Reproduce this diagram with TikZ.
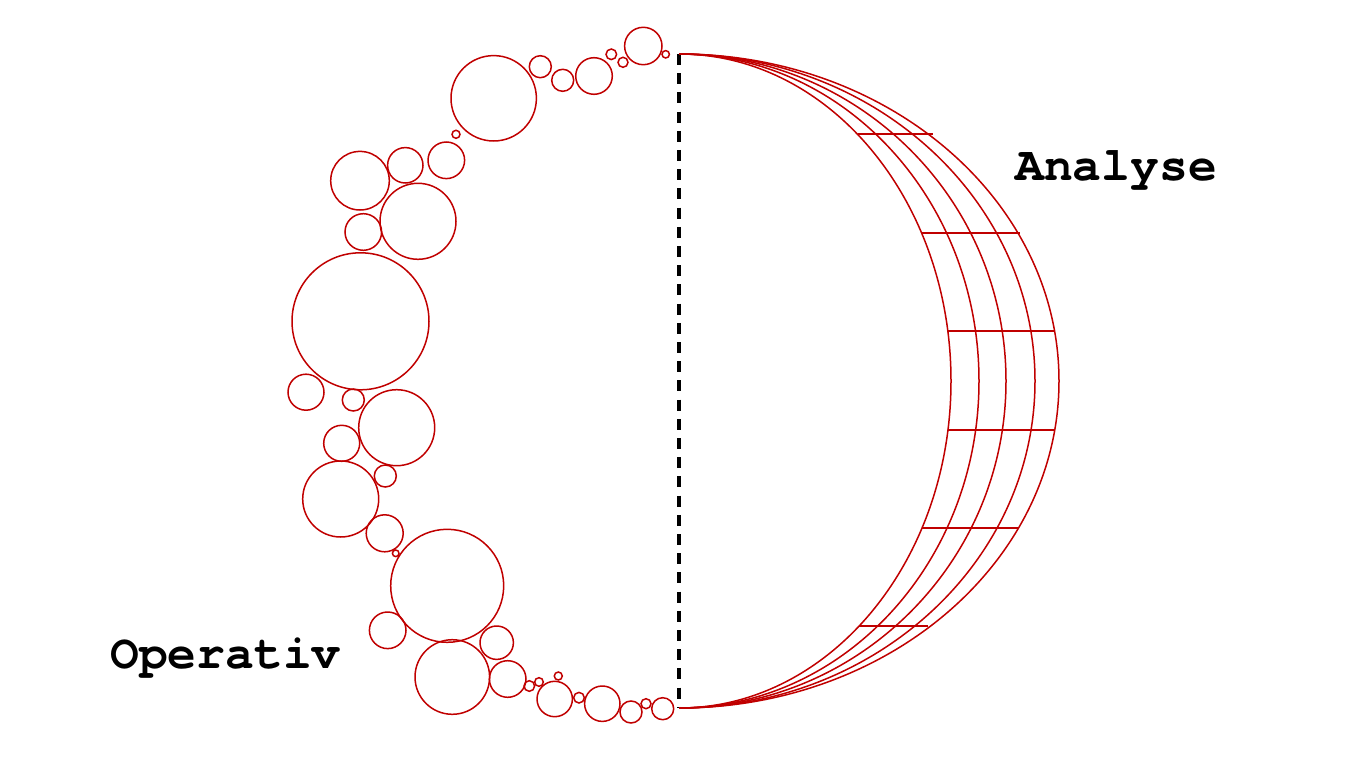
\documentclass[tikz,border=0pt]{standalone}
\usepackage{fontspec}
\newfontfamily\labelfont{texgyrecursor}[Extension=.otf,UprightFont=*-regular,BoldFont=*-bold]
\definecolor{dred}{RGB}{192,0,0}
\begin{document}
\begin{tikzpicture}[x=1pt,y=-1pt,
  bub/.style={draw=dred,line width=1.5pt},
  arcline/.style={draw=dred,line width=1.5pt},
  rung/.style={draw=dred,line width=1.5pt},
  axisline/.style={draw=black,line width=3.2pt,dash pattern=on 11pt off 8.2pt},
  lbl/.style={font=\labelfont\bfseries\fontsize{48}{50}\selectfont,anchor=base,inner sep=0pt}]
\useasboundingbox (0,0) rectangle (1358,765);
\coordinate (top) at (679,54);
\coordinate (bot) at (679,708);
% dashed axis
\draw[axisline] (top) -- (bot);
% nested half-ellipses
\foreach \a in {272,300,327,356,380}{
  \draw[arcline] (top) arc[start angle=-90,end angle=90,x radius=\a,y radius=327];
}
% rungs
\draw[rung] (858,134) -- (933,134);
\draw[rung] (922,233) -- (1020,233);
\draw[rung] (948,331) -- (1055,331);
\draw[rung] (948,430) -- (1055,430);
\draw[rung] (922,528) -- (1018,528);
\draw[rung] (859,626) -- (928,626);
% bubbles
\foreach \x/\y/\r in {
  493.7/98.3/42.7, 540.3/66.7/11, 562.7/80.3/11, 594/76/18.3, 611.3/54.3/5.3,
  623/62.3/5, 643.3/46/18.7, 665.7/54.3/3.7, 456/134.3/4, 446.3/160.3/18.3,
  405.3/165.3/17.7, 360/180.7/29.3, 418/221.3/38, 363.3/232/18.3,
  360.5/321.3/68.5, 306/392.2/18, 353.3/400/11, 396.7/427.7/38, 341.7/443.3/18,
  385.3/476/11, 340.7/499/38, 384.7/533.3/18.5, 395.7/553.3/3.3,
  447.2/585.8/56.5, 387.7/630.3/18.3, 496.7/642.7/16.7, 452.3/677/37.3,
  507.7/679/18.3, 529.3/686/5.3, 539/682/4.3, 558.3/676/4, 554.7/699/17.7,
  579/697.7/5.3, 602.3/703.7/17.7, 631/712/11, 646/703.7/5, 662.7/708.7/11}{
  \draw[bub] (\x,\y) circle[radius=\r];
}
% labels
\node[lbl] (analyse) at (1116,181) {Analyse};
\node[lbl] (operativ) at (225.5,668) {Operativ};
\end{tikzpicture}
\end{document}
